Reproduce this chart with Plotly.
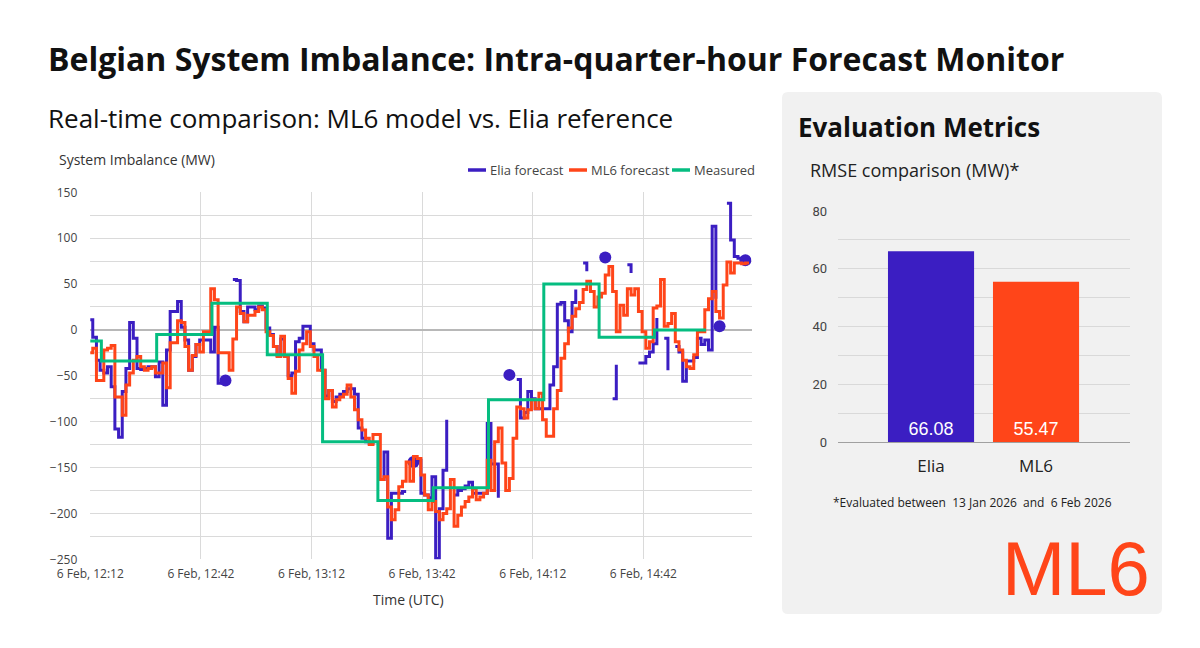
import plotly.graph_objects as go
import pandas as pd

W, H = 1200, 648


def px(x):
    return x / W


def py(y):
    return 1 - y / H


# ---------------- data ----------------
FORECAST_START = "2026-02-06 12:11:40"

elia_forecast = [
    11, -8, -33, -44, -47, -40, -62, -108, -117, -67,
    -42, 8, -9, -42, -43, -42, -40, -40, -51, -35,
    -82, -22, 20, 20, 31, 3, -11, -44, -29, -16,
    -11, -11, -11, -24, 3, -58, -58, None, None, 55,
    54, 20, 9, 25, 25, 22, 26, 24, 2, -5,
    -18, -28, -10, -28, -50, -47, -13, -9, 4, 4,
    -15, -22, -22, -44, -72, -66, -78, -73, -70, -67,
    -64, -64, -70, -107, -118, -122, -124, -125, None, -163,
    -133, -227, -178, -178, -178, -176, -176, None, None, -142,
    -178, -180, -183, -160, -249, -195, -153, -98, None, -180,
    -175, -173, -170, -166, -178, -178, -178, -178, -102, -146,
    -146, -183, None, None, None, None, -54, -96, -90, -67,
    -75, -86, -86, -86, -86, -60, -40, 28, 30, 10,
    -2, 30, 44, None, 73, 64, None, None, None, None,
    None, None, -75, -38, None, None, 71, 62, None, -36,
    -36, -29, -24, -15, 13, None, -9, -44, None, -18,
    -24, -56, -34, -34, -30, -9, -16, -11, -22, 113,
    34, None, None, 138, 98, 80, 78, 76, None, None,
]

ml6_forecast = [
    -25, -20, -55, -55, -22, -20, -17, -73, -73, -93,
    -60, -47, -33, -29, -40, -44, -42, -40, -47, -47,
    -36, -63, -14, -14, 10, 8, -18, -44, -28, -16,
    -24, -2, -2, 45, 33, -25, -25, -25, -44, -10,
    25, 18, 9, 16, 16, 20, 25, 22, -2, -6,
    -18, -29, -7, -29, -53, -69, -45, -22, -15, -2,
    -18, -29, -44, -44, -75, -66, -84, -76, -73, -70,
    -60, -73, -87, -98, -109, -118, -125, -114, -114, -163,
    -160, -193, -207, -196, -171, -165, -144, -165, -138, -140,
    -158, -180, -196, -187, -198, -207, -200, -195, -163, -214,
    -202, -193, -187, -182, -173, -185, -182, -178, -142, -175,
    -122, -107, -145, -175, -162, -118, -84, -86, -96, -87,
    -76, -86, -69, -98, -116, -116, -86, -66, -31, -15,
    2, 15, 23, 30, 44, 53, 42, 25, 36, 40,
    60, 69, 42, -2, 27, 16, 45, 38, 45, 20,
    -2, -20, -13, 24, 26, 55, 4, 7, 18, -13,
    -22, -33, -40, -42, -27, -2, -2, 22, 34, 42,
    20, 13, 49, 74, 62, 73, 73, 72, 73, 73,
]

# isolated Elia forecast points (index into the forecast minute grid, value)
elia_point_index = [37, 88, 114, 140, 171, 178]
elia_point_value = [-55, -144, -49, 79, 4, 76]

measured_start = [
    "2026-02-06 12:00", "2026-02-06 12:15", "2026-02-06 12:30", "2026-02-06 12:45",
    "2026-02-06 13:00", "2026-02-06 13:15", "2026-02-06 13:30", "2026-02-06 13:45",
    "2026-02-06 14:00", "2026-02-06 14:15", "2026-02-06 14:30", "2026-02-06 14:45",
]
measured_values = [-12, -34, -5, 29, -27, -122, -186, -172, -76, 50, -8, 0]
measured_end = "2026-02-06 14:59"

x_range = ["2026-02-06 12:12:00", "2026-02-06 15:11:20"]
x_tickvals = [
    "2026-02-06 12:12", "2026-02-06 12:42", "2026-02-06 13:12",
    "2026-02-06 13:42", "2026-02-06 14:12", "2026-02-06 14:42",
]
x_ticktext = ["6 Feb, 12:12", "6 Feb, 12:42", "6 Feb, 13:12",
              "6 Feb, 13:42", "6 Feb, 14:12", "6 Feb, 14:42"]

rmse_models = ["Elia", "ML6"]
rmse_values = [66.08, 55.47]

# ---------------- styles ----------------
BLUE = "#3b1ec2"
ORANGE = "#ff4519"
GREEN = "#05bd80"
GRID = "#dadada"
FONT = "Open Sans"

forecast_times = pd.date_range(FORECAST_START, periods=len(ml6_forecast), freq="1min")
point_times = [forecast_times[i] for i in elia_point_index]

fig = go.Figure()

fig.add_trace(go.Scatter(
    x=forecast_times, y=elia_forecast, name="Elia forecast", mode="lines",
    line=dict(color=BLUE, width=3, shape="hv"), connectgaps=False,
    showlegend=False, xaxis="x", yaxis="y"))
fig.add_trace(go.Scatter(
    x=point_times, y=elia_point_value, name="Elia forecast", mode="markers",
    marker=dict(color=BLUE, size=12), showlegend=False, xaxis="x", yaxis="y"))
fig.add_trace(go.Scatter(
    x=forecast_times, y=ml6_forecast, name="ML6 forecast", mode="lines",
    line=dict(color=ORANGE, width=3, shape="hv"), connectgaps=False,
    showlegend=False, xaxis="x", yaxis="y"))
fig.add_trace(go.Scatter(
    x=measured_start + [measured_end], y=measured_values + [measured_values[-1]],
    name="Measured", mode="lines", line=dict(color=GREEN, width=3, shape="hv"),
    showlegend=False, xaxis="x", yaxis="y"))

fig.add_trace(go.Bar(
    x=rmse_models, y=rmse_values, marker=dict(color=[BLUE, ORANGE], line=dict(width=0)),
    width=0.82, texttemplate="%{y:.2f}", textposition="inside", insidetextanchor="start",
    textfont=dict(color="white", size=18, family="Liberation Sans"),
    showlegend=False, xaxis="x2", yaxis="y2"))

shapes = []
# rounded grey panel
x0, x1, y0, y1 = px(782), px(1162), py(614), py(92)
rx, ry = 6 / W, 6 / H
path = (f"M {x0+rx},{y0} L {x1-rx},{y0} Q {x1},{y0} {x1},{y0+ry} "
        f"L {x1},{y1-ry} Q {x1},{y1} {x1-rx},{y1} L {x0+rx},{y1} "
        f"Q {x0},{y1} {x0},{y1-ry} L {x0},{y0+ry} Q {x0},{y0} {x0+rx},{y0} Z")
shapes.append(dict(type="path", path=path, xref="paper", yref="paper",
                   fillcolor="#f1f1f1", line=dict(width=0), layer="below"))

annotations = []


def text(x, y, s, size, color="#222", anchor="left", family=FONT, yanchor="middle"):
    annotations.append(dict(x=px(x), y=py(y), xref="paper", yref="paper", text=s,
                            showarrow=False, xanchor=anchor, yanchor=yanchor,
                            font=dict(size=size, color=color, family=family)))


text(46, 59, "<b>Belgian System Imbalance: Intra-quarter-hour Forecast Monitor</b>", 32, "#111")
text(46, 118, "Real-time comparison: ML6 model vs. Elia reference", 26, "#111")
text(57, 159, "System Imbalance (MW)", 14, "#333")
text(408, 599, "Time (UTC)", 14, "#333", anchor="center")

# legend (manual)
legend_items = [("Elia forecast", BLUE, 468), ("ML6 forecast", ORANGE, 569), ("Measured", GREEN, 672)]
for name, color, lx in legend_items:
    shapes.append(dict(type="line", xref="paper", yref="paper",
                       x0=px(lx), x1=px(lx + 18), y0=py(170), y1=py(170),
                       line=dict(color=color, width=3.5)))
    text(lx + 20, 170, name, 13, "#444")

text(796, 127, "<b>Evaluation Metrics</b>", 26, "#111")
text(808, 170, "RMSE comparison (MW)*", 18, "#222")
text(972, 502, "*Evaluated between \u00a013 Jan 2026 \u00a0and \u00a06 Feb 2026", 12, "#222", anchor="center")
text(1152, 568, "ML6", 76, ORANGE, anchor="right", family="Liberation Sans")

fig.update_layout(
    width=W, height=H, margin=dict(l=0, r=0, t=0, b=0, autoexpand=False),
    paper_bgcolor="white", plot_bgcolor="rgba(0,0,0,0)",
    shapes=shapes, annotations=annotations, showlegend=False,
    xaxis=dict(domain=[px(90.3), px(751.5)], anchor="y", type="date", range=x_range,
               automargin=False,
               tickmode="array", tickvals=x_tickvals, ticktext=x_ticktext,
               showgrid=True, gridcolor=GRID, gridwidth=1, zeroline=False, showline=False,
               ticks="", tickfont=dict(size=12, family=FONT, color="#444"), ticklabelstandoff=6),
    yaxis=dict(domain=[py(559.3), py(192.3)], anchor="x", range=[-250, 150],
               automargin=False,
               tick0=0, dtick=50, showgrid=True, gridcolor=GRID, gridwidth=1,
               minor=dict(dtick=25, showgrid=True, gridcolor=GRID, gridwidth=1),
               zeroline=True, zerolinecolor="#b8b8b8", zerolinewidth=1.5, showline=False,
               ticks="", tickfont=dict(size=12, family=FONT, color="#444"), ticklabelstandoff=12),
    xaxis2=dict(domain=[px(838), px(1130)], anchor="y2", type="category",
                automargin=False,
                range=[-0.886, 1.895], showgrid=False, zeroline=False, showline=False,
                ticks="", tickfont=dict(size=17, family=FONT, color="#222"), ticklabelstandoff=12),
    yaxis2=dict(domain=[py(442), py(211)], anchor="x2", range=[0, 80], tick0=0, dtick=20,
                automargin=False,
                showgrid=True, gridcolor="#d9d9d9",
                minor=dict(dtick=10, showgrid=True, gridcolor="#d9d9d9"),
                zeroline=True, zerolinecolor="#a0a0a0", zerolinewidth=1, showline=False,
                ticks="", tickfont=dict(size=13, family="Roboto", color="#444"), ticklabelstandoff=10),
)

fig.write_html("out.html")
